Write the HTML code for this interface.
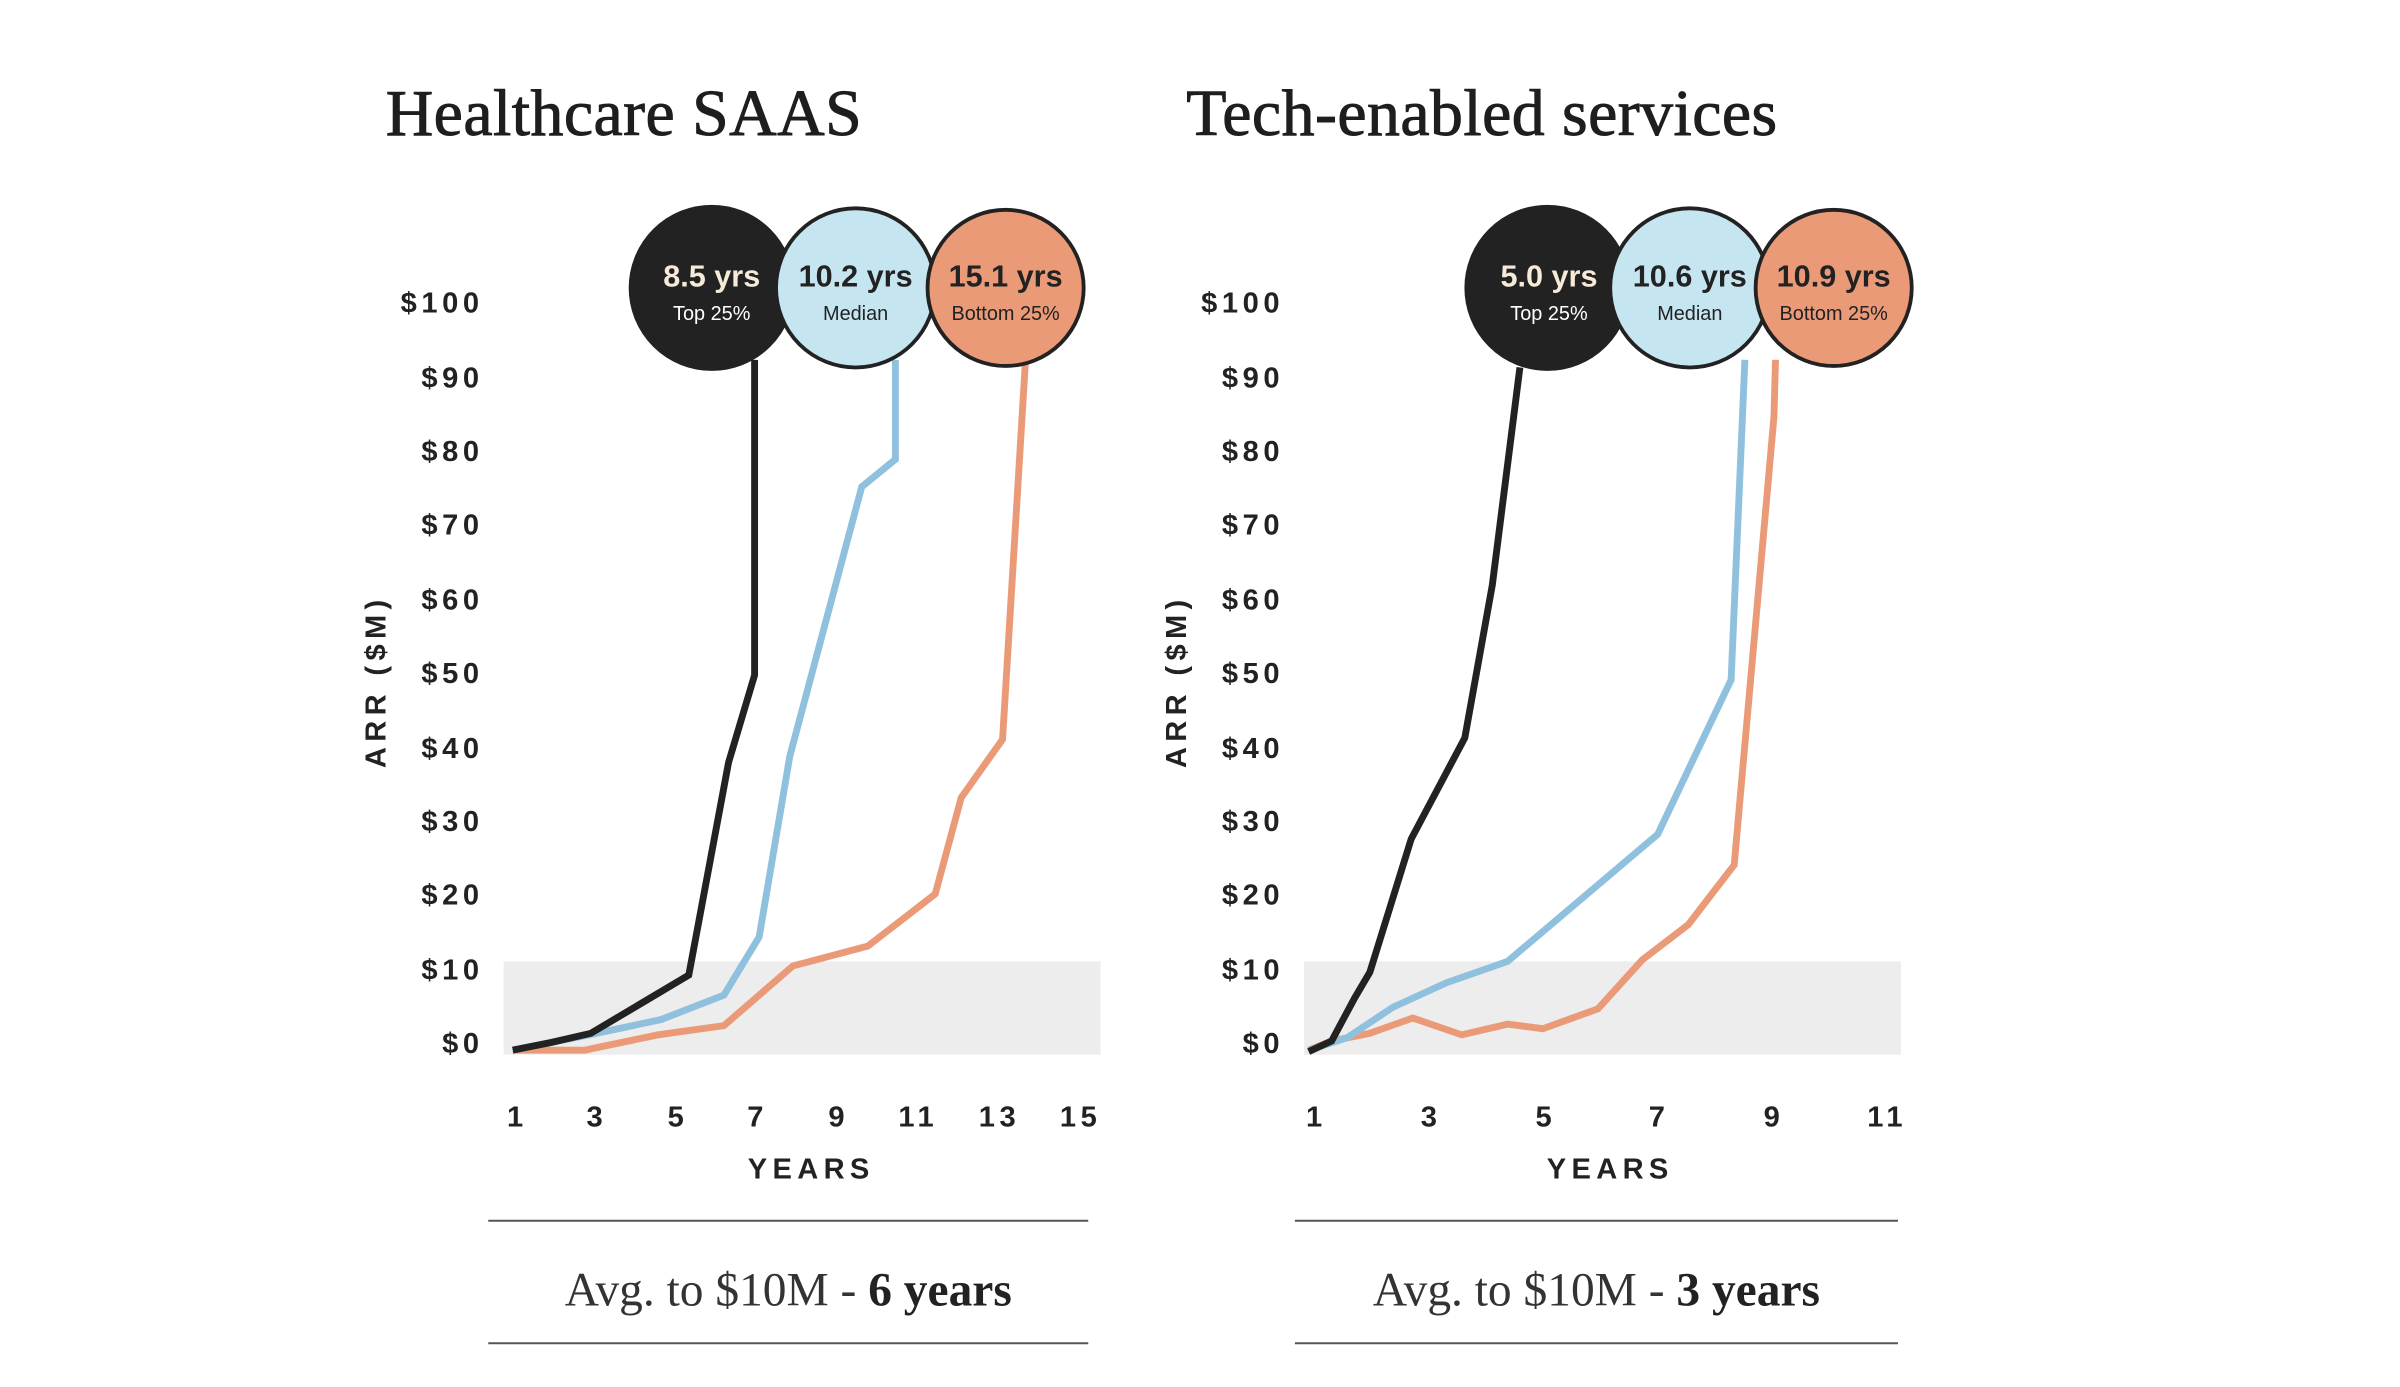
<!DOCTYPE html>
<html><head><meta charset="utf-8"><style>
html,body{margin:0;padding:0;background:#fff}
svg{display:block}
.t{font-family:"Liberation Serif",serif;font-size:43px;fill:#1e1e1e;stroke:#1e1e1e;stroke-width:0.6;letter-spacing:0.3px}
.y{font-family:"Liberation Sans",sans-serif;font-size:19px;font-weight:bold;fill:#222;letter-spacing:3px}
.ax{font-family:"Liberation Sans",sans-serif;font-size:19px;font-weight:bold;fill:#222;letter-spacing:3.5px}
.ct{font-family:"Liberation Sans",sans-serif;font-size:20px;font-weight:bold}
.cs{font-family:"Liberation Sans",sans-serif;font-size:13px}
.ft{font-family:"Liberation Serif",serif;font-size:31px;fill:#333}
.ln{fill:none;stroke-width:4.5;stroke-linejoin:miter}
</style></head><body>
<svg width="2400" height="1387" viewBox="0 0 1568 906" xmlns="http://www.w3.org/2000/svg">
<!-- LEFT -->
<text class="t" x="252" y="88">Healthcare SAAS</text>
<rect x="329" y="628" width="390" height="61" fill="#ededed"/>
<g class="y" text-anchor="end">
<text x="316" y="204">$100</text><text x="316" y="253">$90</text><text x="316" y="301">$80</text><text x="316" y="349">$70</text><text x="316" y="398">$60</text><text x="316" y="446">$50</text><text x="316" y="495">$40</text><text x="316" y="543">$30</text><text x="316" y="591">$20</text><text x="316" y="640">$10</text><text x="316" y="688">$0</text>
</g>
<text class="ax" transform="translate(252,445) rotate(-90)" text-anchor="middle">ARR ($M)</text>
<g class="y" text-anchor="middle">
<text x="338" y="736">1</text><text x="390" y="736">3</text><text x="443" y="736">5</text><text x="495" y="736">7</text><text x="548" y="736">9</text><text x="600" y="736">11</text><text x="653" y="736">13</text><text x="706" y="736">15</text>
</g>
<text class="ax" x="530" y="770" text-anchor="middle">YEARS</text>
<polyline class="ln" stroke="#eb9a78" points="335,686 382,686 430,676 473,670 518,631 567,618 611,584 628,521 655,483 670,235"/>
<polyline class="ln" stroke="#8fc1de" points="335,686 390,675 432,666 473,650 496,612 516,494 563,318 585,300 585,235"/>
<polyline class="ln" stroke="#222" points="335,686 360,681 386,675 450,637 476,498 493,441 493,235"/>
<circle cx="465" cy="188" r="53" fill="#222" stroke="#222" stroke-width="2.5"/>
<circle cx="559" cy="188" r="52" fill="#c5e5f0" stroke="#222" stroke-width="2.5"/>
<circle cx="657" cy="188" r="51" fill="#eb9a78" stroke="#222" stroke-width="2.5"/>
<g text-anchor="middle">
<text class="ct" x="465" y="187" fill="#f6ead8">8.5 yrs</text><text class="cs" x="465" y="209" fill="#fff">Top 25%</text>
<text class="ct" x="559" y="187" fill="#222">10.2 yrs</text><text class="cs" x="559" y="209" fill="#222">Median</text>
<text class="ct" x="657" y="187" fill="#222">15.1 yrs</text><text class="cs" x="657" y="209" fill="#222">Bottom 25%</text>
</g>
<line x1="319" y1="797.5" x2="711" y2="797.5" stroke="#555" stroke-width="1.3"/>
<line x1="319" y1="877.5" x2="711" y2="877.5" stroke="#555" stroke-width="1.3"/>
<text class="ft" x="515" y="853" text-anchor="middle">Avg. to $10M - <tspan font-weight="bold" fill="#222">6 years</tspan></text>

<!-- RIGHT -->
<text class="t" x="775" y="88">Tech-enabled services</text>
<rect x="852" y="628" width="390" height="61" fill="#ededed"/>
<g class="y" text-anchor="end">
<text x="839" y="204">$100</text><text x="839" y="253">$90</text><text x="839" y="301">$80</text><text x="839" y="349">$70</text><text x="839" y="398">$60</text><text x="839" y="446">$50</text><text x="839" y="495">$40</text><text x="839" y="543">$30</text><text x="839" y="591">$20</text><text x="839" y="640">$10</text><text x="839" y="688">$0</text>
</g>
<text class="ax" transform="translate(775,445) rotate(-90)" text-anchor="middle">ARR ($M)</text>
<g class="y" text-anchor="middle">
<text x="860" y="736">1</text><text x="935" y="736">3</text><text x="1010" y="736">5</text><text x="1084" y="736">7</text><text x="1159" y="736">9</text><text x="1233" y="736">11</text>
</g>
<text class="ax" x="1052" y="770" text-anchor="middle">YEARS</text>
<polyline class="ln" stroke="#eb9a78" points="855,686 870,680 895,675 923,665 955,676 985,669 1008,672 1044,659 1073,627 1103,604 1133,565 1159,272 1160,235"/>
<polyline class="ln" stroke="#8fc1de" points="855,686 880,678 910,658 945,642 985,628 1083,545 1131,444 1140,235"/>
<polyline class="ln" stroke="#222" points="855,687 870,680 885,652 895,635 922,548 957,482 975,382 993,240"/>
<circle cx="1011" cy="188" r="53" fill="#222" stroke="#222" stroke-width="2.5"/>
<circle cx="1104" cy="188" r="52" fill="#c5e5f0" stroke="#222" stroke-width="2.5"/>
<circle cx="1198" cy="188" r="51" fill="#eb9a78" stroke="#222" stroke-width="2.5"/>
<g text-anchor="middle">
<text class="ct" x="1012" y="187" fill="#f6ead8">5.0 yrs</text><text class="cs" x="1012" y="209" fill="#fff">Top 25%</text>
<text class="ct" x="1104" y="187" fill="#222">10.6 yrs</text><text class="cs" x="1104" y="209" fill="#222">Median</text>
<text class="ct" x="1198" y="187" fill="#222">10.9 yrs</text><text class="cs" x="1198" y="209" fill="#222">Bottom 25%</text>
</g>
<line x1="846" y1="797.5" x2="1240" y2="797.5" stroke="#555" stroke-width="1.3"/>
<line x1="846" y1="877.5" x2="1240" y2="877.5" stroke="#555" stroke-width="1.3"/>
<text class="ft" x="1043" y="853" text-anchor="middle">Avg. to $10M - <tspan font-weight="bold" fill="#222">3 years</tspan></text>
</svg>
</body></html>
